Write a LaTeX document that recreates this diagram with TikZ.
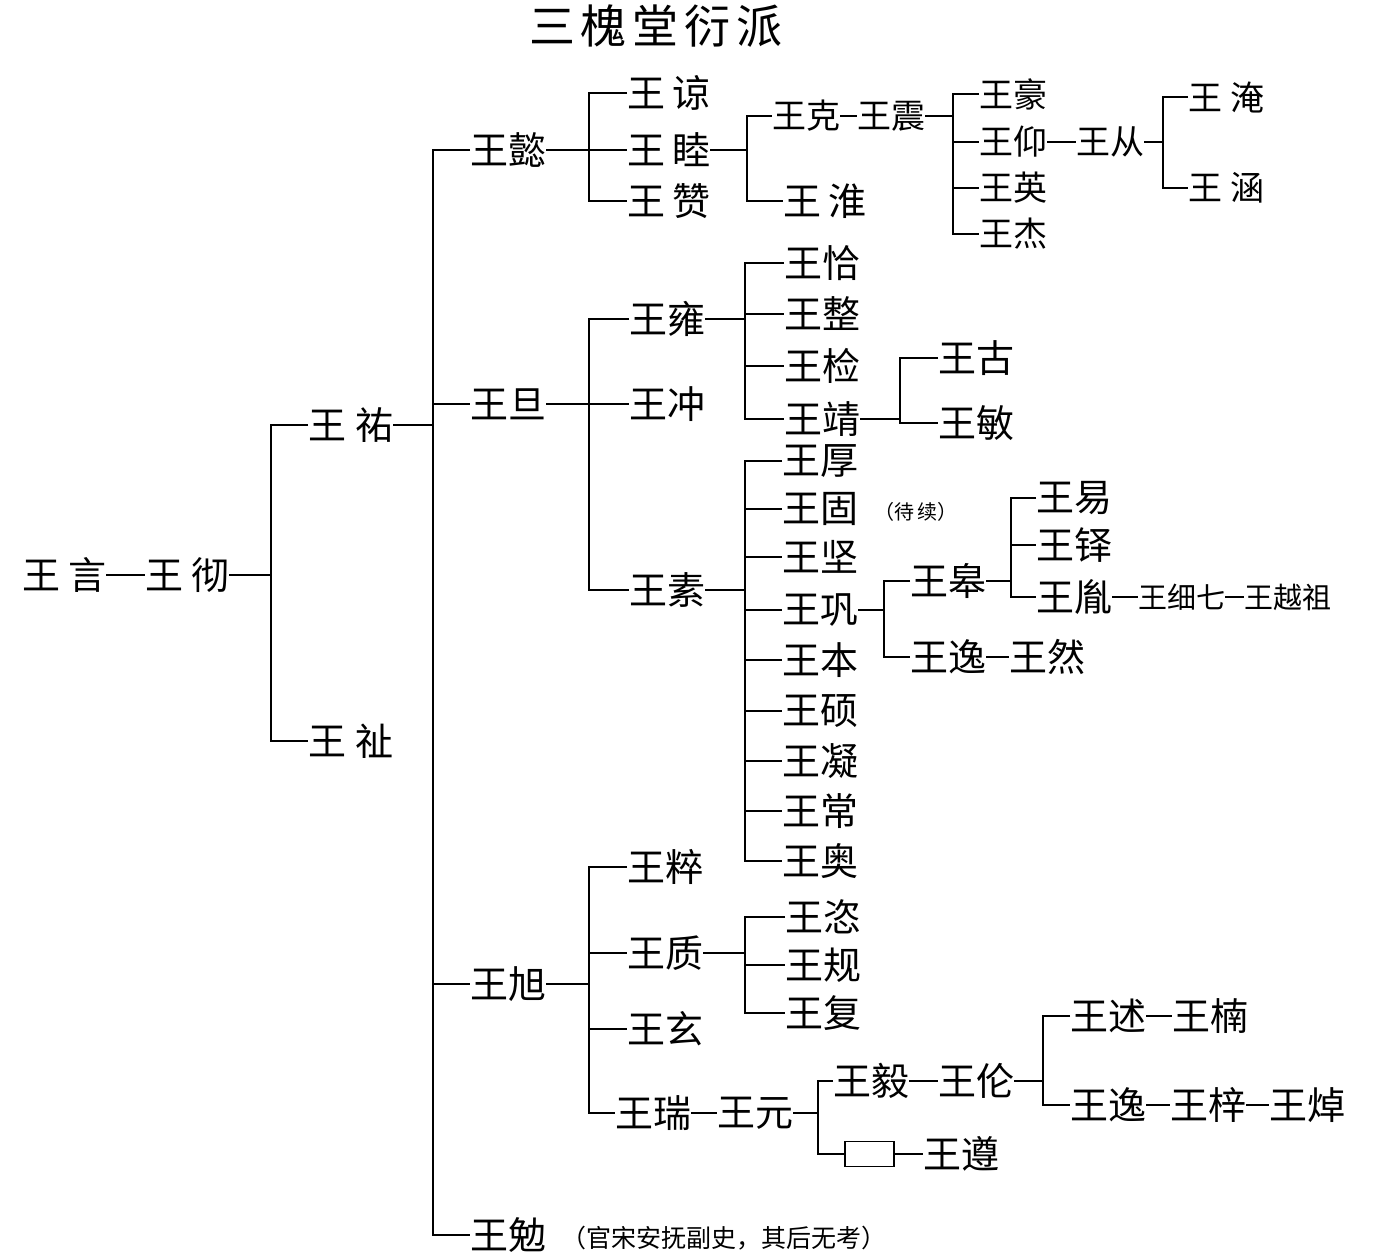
\documentclass[tikz,border=0pt]{standalone}
\usepackage{fontspec}
\newfontfamily\cjk{Noto Sans CJK SC}
\begin{document}
\begin{tikzpicture}[x=1pt,y=-1pt,
  nm/.style={font=\cjk\fontsize{38}{38}\selectfont, inner sep=0pt, anchor=west},
  sm/.style={nm, font=\cjk\fontsize{34}{34}\selectfont},
  xs/.style={nm, font=\cjk\fontsize{29}{29}\selectfont},
  notetext/.style={font=\cjk\fontsize{20}{20}\selectfont, inner sep=0pt, anchor=west},
  ln/.style={line width=1.8pt},
  emptybox/.style={draw, line width=1.8pt, minimum width=49pt, minimum height=25pt, inner sep=0pt}]
\useasboundingbox (0,0) rectangle (1398,1254);
\fill[white] (0,0) rectangle (1398,1254);
% title
\node[font=\cjk\fontsize{46}{46}\selectfont, inner sep=0pt] (title) at (656,26) {三\hspace{6pt}槐\hspace{6pt}堂\hspace{6pt}衍\hspace{6pt}派};
% bus coordinates
\coordinate (A) at (271,0);
\coordinate (B) at (433,0);
\coordinate (C) at (589,0);
\coordinate (D) at (747,0);
\coordinate (E) at (953,0);
\coordinate (F) at (1163,0);
\coordinate (G) at (589,0);
\coordinate (H) at (745,0);
\coordinate (I) at (900,0);
\coordinate (J) at (745,0);
\coordinate (K) at (884,0);
\coordinate (L) at (1011,0);
\coordinate (M) at (589,0);
\coordinate (N) at (745,0);
\coordinate (O) at (818,0);
\coordinate (P) at (1043,0);
% level 0-1
\node[nm] (yan) at (22,575) {王\hspace{8pt}言};
\node[nm] (che) at (145,575) {王\hspace{8pt}彻};
\node[nm] (zuo) at (308,425) {王\hspace{9pt}祐};
\node[nm] (zhi) at (308,741) {王\hspace{9pt}祉};
% level 2
\node[nm] (yi) at (470,150) {王懿};
\node[nm] (dan) at (470,404) {王旦};
\node[nm] (xu) at (470,984) {王旭};
\node[nm] (mian) at (470,1235) {王勉};
\node[font=\cjk\fontsize{25}{25}\selectfont, inner sep=0pt, anchor=west] (mnote) at (561,1238) {（官宋安抚副史，其后无考）};
% 王懿 branch
\node[nm] (liang) at (627,93) {王\hspace{7pt}谅};
\node[nm] (mu) at (627,150) {王\hspace{7pt}睦};
\node[nm] (zan) at (627,201) {王\hspace{7pt}赞};
\node[sm] (ke) at (772,116) {王克};
\node[sm] (zhen) at (857,116) {王震};
\node[nm] (huai) at (783,201) {王\hspace{7pt}淮};
\node[sm] (hao) at (979,94) {王豪};
\node[sm] (yang) at (979,142) {王仰};
\node[sm] (ying) at (979,188) {王英};
\node[sm] (jie) at (979,234) {王杰};
\node[sm] (cong) at (1076,142) {王从};
\node[sm] (yan2) at (1188,97) {王\hspace{8pt}淹};
\node[sm] (han) at (1188,188) {王\hspace{8pt}涵};
% 王旦 branch
\node[nm] (yong) at (629,319) {王雍};
\node[nm] (chong) at (629,404) {王冲};
\node[nm] (su) at (629,590) {王素};
\node[nm] (qia) at (784,263) {王恰};
\node[nm] (zheng) at (784,314) {王整};
\node[nm] (jian) at (784,366) {王检};
\node[nm] (jing) at (784,419) {王靖};
\node[nm] (gu) at (938,358) {王古};
\node[nm] (min) at (938,423) {王敏};
\node[nm] (hou) at (782,461) {王厚};
\node[nm] (guu) at (782,509) {王固};
\node[notetext] (daixu) at (874,512) {（待\hspace{3pt}续）};
\node[nm] (jian2) at (782,557) {王坚};
\node[nm] (gong) at (782,610) {王巩};
\node[nm] (ben) at (782,660) {王本};
\node[nm] (shuo) at (782,711) {王硕};
\node[nm] (ning) at (782,761) {王凝};
\node[nm] (chang) at (782,811) {王常};
\node[nm] (ao) at (782,861) {王奥};
\node[nm] (gao) at (910,581) {王皋};
\node[nm] (yi2) at (910,657) {王逸};
\node[nm] (ran) at (1009,657) {王然};
\node[nm] (yi3) at (1036,498) {王易};
\node[nm] (duo) at (1036,545) {王铎};
\node[nm] (yin) at (1036,597) {王胤};
\node[xs] (xiqi) at (1138,597) {王细七};
\node[xs] (yuezu) at (1244,597) {王越祖};
% 王旭 branch
\node[nm] (cui) at (627,867) {王粹};
\node[nm] (zhi2) at (627,953) {王质};
\node[nm] (xuan) at (627,1029) {王玄};
\node[nm] (rui) at (615,1113) {王瑞};
\node[nm] (yuan) at (717,1113) {王元};
\node[nm] (zi) at (785,917) {王恣};
\node[nm] (gui) at (785,965) {王规};
\node[nm] (fu) at (785,1013) {王复};
\node[nm] (yi4) at (833,1081) {王毅};
\node[nm] (lun) at (938,1081) {王伦};
\node[emptybox] (box) at (869.5,1154) {};
\node[nm] (zun) at (923,1154) {王遵};
\node[nm] (shu) at (1070,1016) {王述};
\node[nm] (nan) at (1172,1016) {王楠};
\node[nm] (yi5) at (1070,1105) {王逸};
\node[nm] (zi2) at (1170,1105) {王梓};
\node[nm] (zhuo) at (1269,1105) {王焯};
% ---------- connectors ----------
\draw[ln] (yan.east) -- (che.west);
% A: 王彻
\draw[ln] (che.east) -- (che.east -| A);
\draw[ln] (zuo.west) -- (zuo.west -| A) -- (zhi.west -| A) -- (zhi.west);
% B: 王祐
\draw[ln] (zuo.east) -- (zuo.east -| B);
\draw[ln] (yi.west) -- (yi.west -| B) -- (mian.west -| B) -- (mian.west);
\foreach \c in {dan,xu} \draw[ln] (\c.west -| B) -- (\c.west);
% C: 王懿
\draw[ln] (yi.east) -- (yi.east -| C);
\draw[ln] (liang.west) -- (liang.west -| C) -- (zan.west -| C) -- (zan.west);
\draw[ln] (mu.west -| C) -- (mu.west);
% D: 王睦
\draw[ln] (mu.east) -- (mu.east -| D);
\draw[ln] (ke.west) -- (ke.west -| D) -- (huai.west -| D) -- (huai.west);
\draw[ln] (ke.east) -- (zhen.west);
% E: 王震
\draw[ln] (zhen.east) -- (zhen.east -| E);
\draw[ln] (hao.west) -- (hao.west -| E) -- (jie.west -| E) -- (jie.west);
\foreach \c in {yang,ying} \draw[ln] (\c.west -| E) -- (\c.west);
\draw[ln] (yang.east) -- (cong.west);
% F: 王从
\draw[ln] (cong.east) -- (cong.east -| F);
\draw[ln] (yan2.west) -- (yan2.west -| F) -- (han.west -| F) -- (han.west);
% G: 王旦
\draw[ln] (dan.east) -- (chong.west);
\draw[ln] (yong.west) -- (yong.west -| G) -- (su.west -| G) -- (su.west);
% H: 王雍
\draw[ln] (yong.east) -- (yong.east -| H);
\draw[ln] (qia.west) -- (qia.west -| H) -- (jing.west -| H) -- (jing.west);
\foreach \c in {zheng,jian} \draw[ln] (\c.west -| H) -- (\c.west);
% I: 王靖
\draw[ln] (jing.east) -- (jing.east -| I);
\draw[ln] (gu.west) -- (gu.west -| I) -- (min.west -| I) -- (min.west);
% J: 王素
\draw[ln] (su.east) -- (su.east -| J);
\draw[ln] (hou.west) -- (hou.west -| J) -- (ao.west -| J) -- (ao.west);
\foreach \c in {guu,jian2,gong,ben,shuo,ning,chang} \draw[ln] (\c.west -| J) -- (\c.west);
% K: 王巩
\draw[ln] (gong.east) -- (gong.east -| K);
\draw[ln] (gao.west) -- (gao.west -| K) -- (yi2.west -| K) -- (yi2.west);
\draw[ln] (yi2.east) -- (ran.west);
% L: 王皋
\draw[ln] (gao.east) -- (gao.east -| L);
\draw[ln] (yi3.west) -- (yi3.west -| L) -- (yin.west -| L) -- (yin.west);
\draw[ln] (duo.west -| L) -- (duo.west);
\draw[ln] (yin.east) -- (xiqi.west);
\draw[ln] (xiqi.east) -- (yuezu.west);
% M: 王旭
\draw[ln] (xu.east) -- (xu.east -| M);
\draw[ln] (cui.west) -- (cui.west -| M) -- (rui.west -| M) -- (rui.west);
\foreach \c in {zhi2,xuan} \draw[ln] (\c.west -| M) -- (\c.west);
% N: 王质
\draw[ln] (zhi2.east) -- (zhi2.east -| N);
\draw[ln] (zi.west) -- (zi.west -| N) -- (fu.west -| N) -- (fu.west);
\draw[ln] (gui.west -| N) -- (gui.west);
% 王瑞 - 王元
\draw[ln] (rui.east) -- (yuan.west);
% O: 王元
\draw[ln] (yuan.east) -- (yuan.east -| O);
\draw[ln] (yi4.west) -- (yi4.west -| O) -- (box.west -| O) -- (box.west);
\draw[ln] (box.east) -- (zun.west);
\draw[ln] (yi4.east) -- (lun.west);
% P: 王伦
\draw[ln] (lun.east) -- (lun.east -| P);
\draw[ln] (shu.west) -- (shu.west -| P) -- (yi5.west -| P) -- (yi5.west);
\draw[ln] (shu.east) -- (nan.west);
\draw[ln] (yi5.east) -- (zi2.west);
\draw[ln] (zi2.east) -- (zhuo.west);
\end{tikzpicture}
\end{document}
